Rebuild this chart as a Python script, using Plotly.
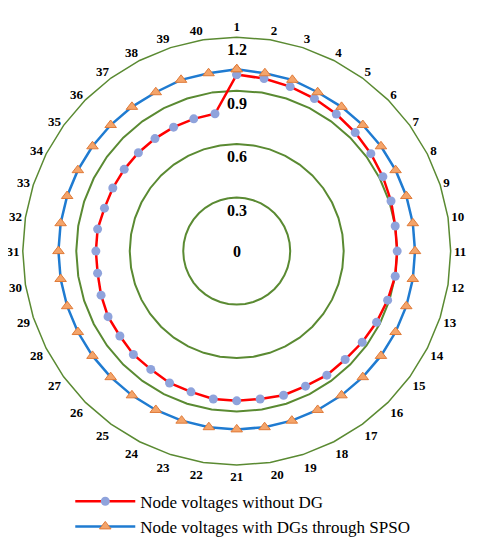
import plotly.graph_objects as go

nodes = [str(i) for i in range(1, 41)]
without_dg = [0.99, 0.98, 0.97, 0.96, 0.95, 0.94, 0.93, 0.92, 0.91, 0.90,
              0.90, 0.90, 0.89, 0.88, 0.87, 0.86, 0.86, 0.85, 0.85, 0.84,
              0.84, 0.84, 0.83, 0.83, 0.82, 0.82, 0.81, 0.81, 0.80, 0.79,
              0.79, 0.79, 0.78, 0.78, 0.78, 0.78, 0.78, 0.78, 0.78, 0.78]
with_dg = [1.02, 1.01, 1.01, 1.00, 1.00, 1.00, 1.00, 1.00, 1.00, 1.00,
           1.00, 1.00, 1.00, 1.00, 1.00, 1.00, 1.00, 1.00, 1.00, 1.00,
           1.00, 1.00, 1.00, 1.00, 1.00, 1.00, 1.00, 1.00, 1.00, 1.00,
           1.00, 1.00, 1.00, 1.00, 1.00, 1.00, 1.00, 1.00, 1.01, 1.01]
radial_ticks = [0, 0.3, 0.6, 0.9, 1.2]
r_max = 1.2

dom_x = [0.03, 0.925]
dom_y = [0.169, 0.947]

fig = go.Figure()
fig.add_trace(go.Scatterpolar(r=without_dg + without_dg[:1], theta=nodes + nodes[:1],
                              mode='lines+markers', name='Node voltages without DG',
                              line=dict(color='#ff0000', width=2.5),
                              marker=dict(color='#8fa3dc', size=9, symbol='circle')))
fig.add_trace(go.Scatterpolar(r=with_dg + with_dg[:1], theta=nodes + nodes[:1],
                              mode='lines+markers', name='Node voltages with DGs through SPSO',
                              line=dict(color='#1f7bd1', width=2.5),
                              marker=dict(color='#f4a46a', size=10, symbol='triangle-up',
                                          line=dict(color='#e07b39', width=1))))

# radial tick labels drawn upright just inside each ring, on the top spoke
cx = sum(dom_x) / 2
cy = sum(dom_y) / 2
half_h = (dom_y[1] - dom_y[0]) / 2
for v in radial_ticks:
    fig.add_annotation(x=cx, y=cy + v / r_max * half_h, xref='paper', yref='paper',
                       text='<b>%g</b>' % v, showarrow=False,
                       yanchor='top' if v > 0 else 'middle', yshift=-2 if v > 0 else 0,
                       font=dict(size=16, color='black'))

fig.update_layout(
    width=479, height=550,
    margin=dict(l=0, r=0, t=0, b=0),
    paper_bgcolor='white',
    font=dict(family='Liberation Serif', size=14, color='black'),
    polar=dict(
        domain=dict(x=dom_x, y=dom_y),
        bgcolor='white',
        gridshape='linear',
        radialaxis=dict(range=[0, r_max], tickvals=radial_ticks, showticklabels=False,
                        angle=90, showline=False, ticks='',
                        gridcolor='#5a8a32', gridwidth=1.5),
        angularaxis=dict(direction='clockwise', rotation=90,
                         tickvals=nodes, ticktext=['<b>%s</b>' % n for n in nodes],
                         showgrid=False, linecolor='#5a8a32', linewidth=1.5,
                         ticks='', tickfont=dict(size=13)),
    ),
    legend=dict(x=0.13, y=0.135, xanchor='left', yanchor='top',
                font=dict(size=17), tracegroupgap=22, itemwidth=60),
)

fig.write_html("out.html")
